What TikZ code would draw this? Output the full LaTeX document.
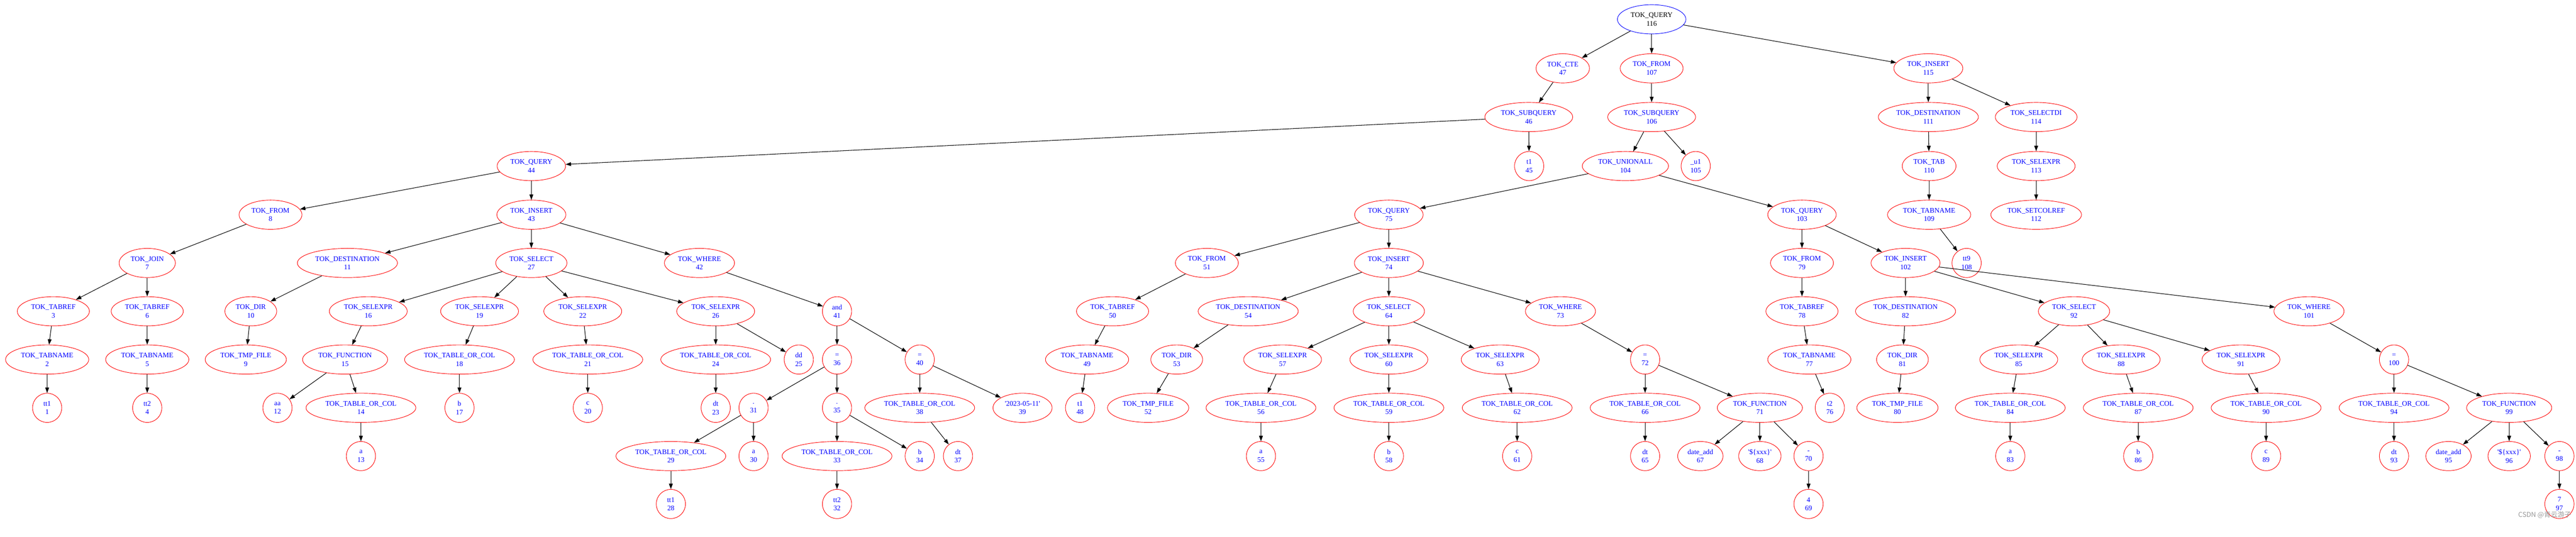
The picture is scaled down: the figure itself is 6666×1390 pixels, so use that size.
\documentclass[tikz,border=0pt]{standalone}
\usepackage{fontspec}
\setmainfont{Liberation Serif}
\newfontfamily\cjkfont{Noto Sans CJK SC}
\usetikzlibrary{shapes.geometric,arrows.meta}
\tikzset{
 tn/.style={ellipse,draw=red,line width=0.35pt,text=blue,align=center,inner sep=2.4pt,
   minimum width=21.5pt,minimum height=21.5pt,font=\fontsize{5.2}{6.3}\selectfont},
 rootn/.style={tn,draw=blue,text=black},
 edge/.style={line width=0.4pt,-{Triangle[length=4pt,width=2.8pt]}}
}
\begin{document}
\begin{tikzpicture}[x=0.01cm,y=-0.01cm]
\useasboundingbox (0,0) rectangle (6666,1390);
% L0
\node[rootn] (n116) at (4274,50) {TOK\_QUERY\\116};
% L1
\node[tn] (n47) at (4044,177) {TOK\_CTE\\47};
\node[tn] (n107) at (4274,177) {TOK\_FROM\\107};
\node[tn] (n115) at (4990,177) {TOK\_INSERT\\115};
% L2
\node[tn] (n46) at (3956,303) {TOK\_SUBQUERY\\46};
\node[tn] (n106) at (4274,303) {TOK\_SUBQUERY\\106};
\node[tn] (n111) at (4990,303) {TOK\_DESTINATION\\111};
\node[tn] (n114) at (5269,303) {TOK\_SELECTDI\\114};
% L3
\node[tn] (n44) at (1375,430) {TOK\_QUERY\\44};
\node[tn] (n45) at (3957,430) {t1\\45};
\node[tn] (n104) at (4206,430) {TOK\_UNIONALL\\104};
\node[tn] (n105) at (4388,430) {\_u1\\105};
\node[tn] (n110) at (4992,430) {TOK\_TAB\\110};
\node[tn] (n113) at (5269,430) {TOK\_SELEXPR\\113};
% L4
\node[tn] (n8) at (700,556) {TOK\_FROM\\8};
\node[tn] (n43) at (1375,556) {TOK\_INSERT\\43};
\node[tn] (n75) at (3594,556) {TOK\_QUERY\\75};
\node[tn] (n103) at (4663,556) {TOK\_QUERY\\103};
\node[tn] (n109) at (4992,556) {TOK\_TABNAME\\109};
\node[tn] (n112) at (5269,556) {TOK\_SETCOLREF\\112};
% L5
\node[tn] (n7) at (381,681) {TOK\_JOIN\\7};
\node[tn] (n11) at (899,681) {TOK\_DESTINATION\\11};
\node[tn] (n27) at (1375,681) {TOK\_SELECT\\27};
\node[tn] (n42) at (1810,681) {TOK\_WHERE\\42};
\node[tn] (n51) at (3123,681) {TOK\_FROM\\51};
\node[tn] (n74) at (3594,681) {TOK\_INSERT\\74};
\node[tn] (n79) at (4663,681) {TOK\_FROM\\79};
\node[tn] (n102) at (4931,681) {TOK\_INSERT\\102};
\node[tn] (n108) at (5089,681) {tt9\\108};
% L6
\node[tn] (n3) at (138,806) {TOK\_TABREF\\3};
\node[tn] (n6) at (381,806) {TOK\_TABREF\\6};
\node[tn] (n10) at (649,806) {TOK\_DIR\\10};
\node[tn] (n16) at (953,806) {TOK\_SELEXPR\\16};
\node[tn] (n19) at (1241,806) {TOK\_SELEXPR\\19};
\node[tn] (n22) at (1508,806) {TOK\_SELEXPR\\22};
\node[tn] (n26) at (1852,806) {TOK\_SELEXPR\\26};
\node[tn] (n41) at (2166,806) {and\\41};
\node[tn] (n50) at (2879,806) {TOK\_TABREF\\50};
\node[tn] (n54) at (3230,806) {TOK\_DESTINATION\\54};
\node[tn] (n64) at (3594,806) {TOK\_SELECT\\64};
\node[tn] (n73) at (4038,806) {TOK\_WHERE\\73};
\node[tn] (n78) at (4663,806) {TOK\_TABREF\\78};
\node[tn] (n82) at (4931,806) {TOK\_DESTINATION\\82};
\node[tn] (n92) at (5367,806) {TOK\_SELECT\\92};
\node[tn] (n101) at (5975,806) {TOK\_WHERE\\101};
% L7
\node[tn] (n2) at (122,931) {TOK\_TABNAME\\2};
\node[tn] (n5) at (381,931) {TOK\_TABNAME\\5};
\node[tn] (n9) at (636,931) {TOK\_TMP\_FILE\\9};
\node[tn] (n15) at (893,931) {TOK\_FUNCTION\\15};
\node[tn] (n18) at (1189,931) {TOK\_TABLE\_OR\_COL\\18};
\node[tn] (n21) at (1521,931) {TOK\_TABLE\_OR\_COL\\21};
\node[tn] (n24) at (1852,931) {TOK\_TABLE\_OR\_COL\\24};
\node[tn] (n25) at (2067,931) {dd\\25};
\node[tn] (n36) at (2166,931) {=\\36};
\node[tn] (n40) at (2380,931) {=\\40};
\node[tn] (n49) at (2813,931) {TOK\_TABNAME\\49};
\node[tn] (n53) at (3045,931) {TOK\_DIR\\53};
\node[tn] (n57) at (3319,931) {TOK\_SELEXPR\\57};
\node[tn] (n60) at (3594,931) {TOK\_SELEXPR\\60};
\node[tn] (n63) at (3882,931) {TOK\_SELEXPR\\63};
\node[tn] (n72) at (4257,931) {=\\72};
\node[tn] (n77) at (4682,931) {TOK\_TABNAME\\77};
\node[tn] (n81) at (4923,931) {TOK\_DIR\\81};
\node[tn] (n85) at (5224,931) {TOK\_SELEXPR\\85};
\node[tn] (n88) at (5489,931) {TOK\_SELEXPR\\88};
\node[tn] (n91) at (5799,931) {TOK\_SELEXPR\\91};
\node[tn] (n100) at (6195,931) {=\\100};
% L8
\node[tn] (n1) at (122,1056) {tt1\\1};
\node[tn] (n4) at (381,1056) {tt2\\4};
\node[tn] (n12) at (718,1056) {aa\\12};
\node[tn] (n14) at (934,1056) {TOK\_TABLE\_OR\_COL\\14};
\node[tn] (n17) at (1189,1056) {b\\17};
\node[tn] (n20) at (1521,1056) {c\\20};
\node[tn] (n23) at (1852,1056) {dt\\23};
\node[tn] (n31) at (1950,1056) {.\\31};
\node[tn] (n35) at (2166,1056) {.\\35};
\node[tn] (n38) at (2380,1056) {TOK\_TABLE\_OR\_COL\\38};
\node[tn] (n39) at (2646,1056) {\textquotesingle 2023-05-11\textquotesingle\\39};
\node[tn] (n48) at (2795,1056) {t1\\48};
\node[tn] (n52) at (2971,1056) {TOK\_TMP\_FILE\\52};
\node[tn] (n56) at (3263,1056) {TOK\_TABLE\_OR\_COL\\56};
\node[tn] (n59) at (3594,1056) {TOK\_TABLE\_OR\_COL\\59};
\node[tn] (n62) at (3926,1056) {TOK\_TABLE\_OR\_COL\\62};
\node[tn] (n66) at (4257,1056) {TOK\_TABLE\_OR\_COL\\66};
\node[tn] (n71) at (4554,1056) {TOK\_FUNCTION\\71};
\node[tn] (n76) at (4735,1056) {t2\\76};
\node[tn] (n80) at (4910,1056) {TOK\_TMP\_FILE\\80};
\node[tn] (n84) at (5202,1056) {TOK\_TABLE\_OR\_COL\\84};
\node[tn] (n87) at (5533,1056) {TOK\_TABLE\_OR\_COL\\87};
\node[tn] (n90) at (5864,1056) {TOK\_TABLE\_OR\_COL\\90};
\node[tn] (n94) at (6195,1056) {TOK\_TABLE\_OR\_COL\\94};
\node[tn] (n99) at (6493,1056) {TOK\_FUNCTION\\99};
% L9
\node[tn] (n13) at (934,1181) {a\\13};
\node[tn] (n29) at (1736,1181) {TOK\_TABLE\_OR\_COL\\29};
\node[tn] (n30) at (1950,1181) {a\\30};
\node[tn] (n33) at (2166,1181) {TOK\_TABLE\_OR\_COL\\33};
\node[tn] (n34) at (2380,1181) {b\\34};
\node[tn] (n37) at (2479,1181) {dt\\37};
\node[tn] (n55) at (3263,1181) {a\\55};
\node[tn] (n58) at (3594,1181) {b\\58};
\node[tn] (n61) at (3926,1181) {c\\61};
\node[tn] (n65) at (4257,1181) {dt\\65};
\node[tn] (n67) at (4400,1181) {date\_add\\67};
\node[tn] (n68) at (4554,1181) {\textquotesingle\$\{xxx\}\textquotesingle\\68};
\node[tn] (n70) at (4680,1181) {-\\70};
\node[tn] (n83) at (5202,1181) {a\\83};
\node[tn] (n86) at (5533,1181) {b\\86};
\node[tn] (n89) at (5864,1181) {c\\89};
\node[tn] (n93) at (6195,1181) {dt\\93};
\node[tn] (n95) at (6336,1181) {date\_add\\95};
\node[tn] (n96) at (6493,1181) {\textquotesingle\$\{xxx\}\textquotesingle\\96};
\node[tn] (n98) at (6623,1181) {-\\98};
% L10
\node[tn] (n28) at (1736,1305) {tt1\\28};
\node[tn] (n32) at (2166,1305) {tt2\\32};
\node[tn] (n69) at (4680,1305) {4\\69};
\node[tn] (n97) at (6623,1305) {7\\97};
% edges
\foreach \a/\b in {116/47,116/107,116/115,47/46,107/106,115/111,115/114,46/44,46/45,
 106/104,106/105,111/110,114/113,110/109,113/112,109/108,
 44/8,44/43,8/7,7/3,7/6,3/2,2/1,6/5,5/4,43/11,43/27,43/42,11/10,10/9,
 27/16,27/19,27/22,27/26,16/15,15/12,15/14,14/13,19/18,18/17,22/21,21/20,
 26/24,26/25,24/23,42/41,41/36,41/40,36/31,36/35,31/29,31/30,29/28,35/33,35/34,
 33/32,40/38,40/39,38/37,
 104/75,104/103,75/51,75/74,51/50,50/49,49/48,74/54,74/64,74/73,54/53,53/52,
 64/57,64/60,64/63,57/56,56/55,60/59,59/58,63/62,62/61,73/72,72/66,72/71,66/65,
 71/67,71/68,71/70,70/69,
 103/79,103/102,79/78,78/77,77/76,102/82,102/92,102/101,82/81,81/80,
 92/85,92/88,92/91,85/84,84/83,88/87,87/86,91/90,90/89,101/100,100/94,100/99,
 94/93,99/95,99/96,99/98,98/97}
 \draw[edge] (n\a) -- (n\b);
\node[text=black!40,font=\cjkfont\fontsize{5}{6}\selectfont,inner sep=0pt] (wm) at (6585,1333) {CSDN @青云游子};
\end{tikzpicture}
\end{document}
